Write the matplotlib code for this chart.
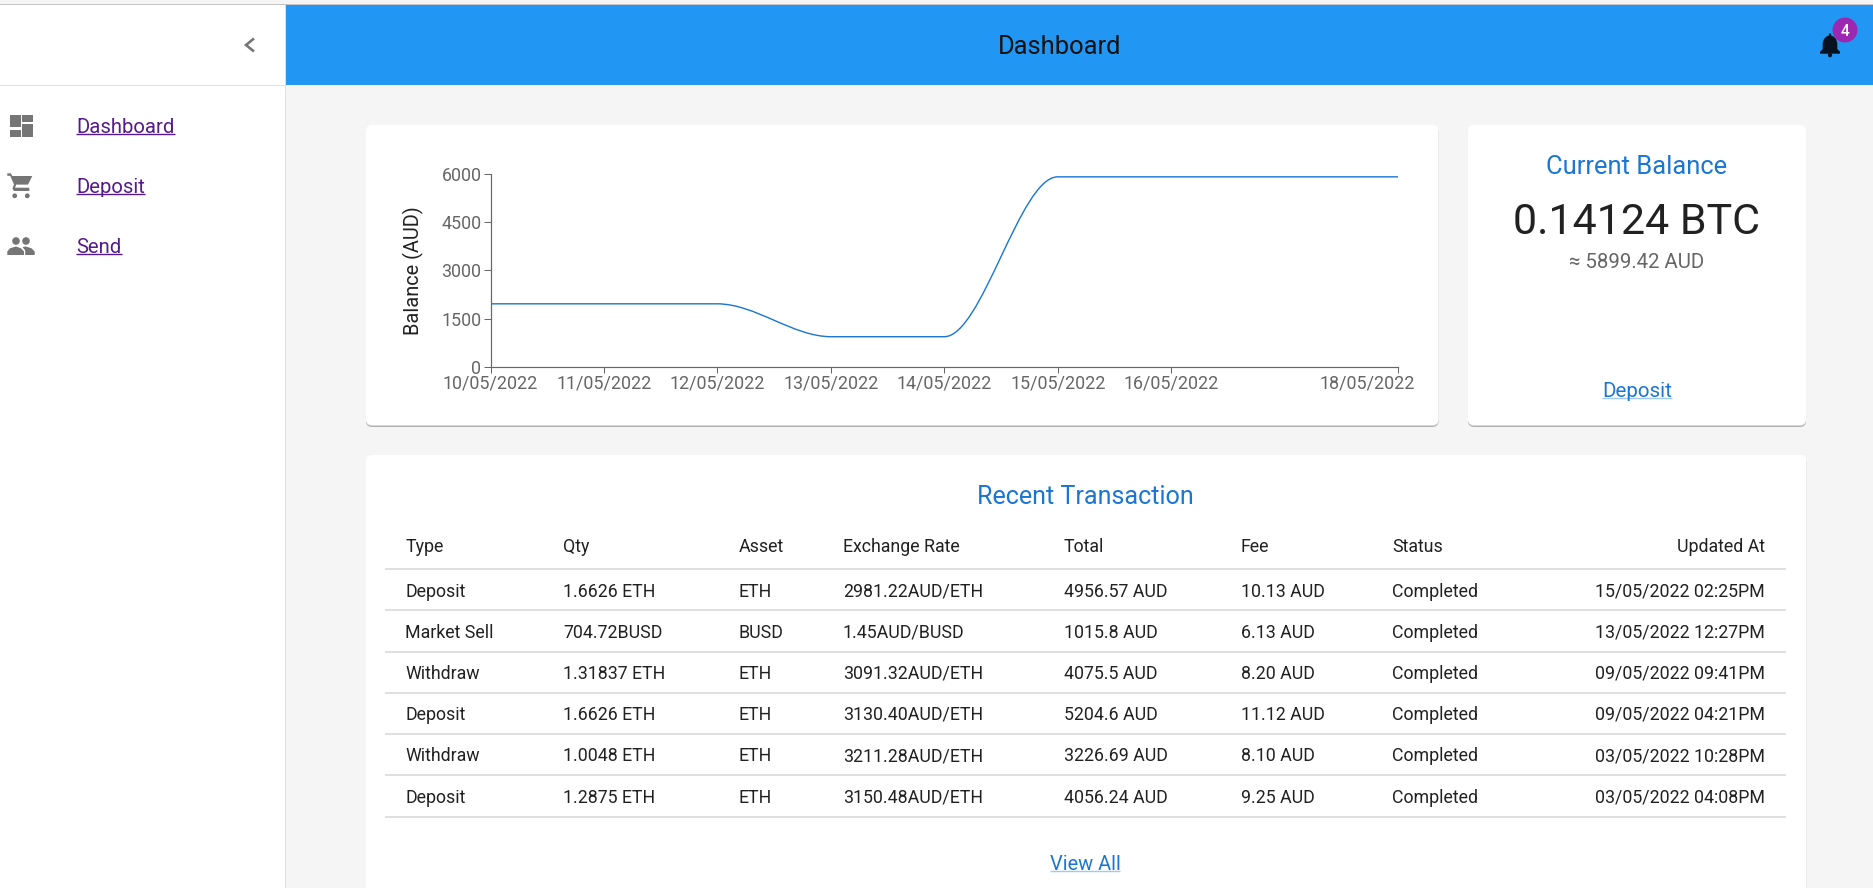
from datetime import datetime
import matplotlib
matplotlib.use("Agg")
import matplotlib.pyplot as plt
import matplotlib.dates as mdates
from matplotlib.patches import Rectangle, FancyBboxPatch, Circle, Polygon, PathPatch
from matplotlib.path import Path
from matplotlib.transforms import ScaledTranslation

plt.rcParams['font.family'] = ['Roboto', 'DejaVu Sans']

# ---- chart data
date_labels = ["10/05/2022", "11/05/2022", "12/05/2022", "13/05/2022",
               "14/05/2022", "15/05/2022", "16/05/2022", "18/05/2022"]
balance = [1960, 1960, 1960, 940, 940, 5899.42, 5899.42, 5899.42]
y_ticks = [0, 1500, 3000, 4500, 6000]
y_title = "Balance (AUD)"

# ---- table data
table_columns = ["Type", "Qty", "Asset", "Exchange Rate", "Total", "Fee", "Status", "Updated At"]
tx_type = ["Deposit", "Market Sell", "Withdraw", "Deposit", "Withdraw", "Deposit"]
tx_qty = ["1.6626 ETH", "704.72BUSD", "1.31837 ETH", "1.6626 ETH", "1.0048 ETH", "1.2875 ETH"]
tx_asset = ["ETH", "BUSD", "ETH", "ETH", "ETH", "ETH"]
tx_rate = ["2981.22AUD/ETH", "1.45AUD/BUSD", "3091.32AUD/ETH", "3130.40AUD/ETH",
           "3211.28AUD/ETH", "3150.48AUD/ETH"]
tx_total = ["4956.57 AUD", "1015.8 AUD", "4075.5 AUD", "5204.6 AUD", "3226.69 AUD", "4056.24 AUD"]
tx_fee = ["10.13 AUD", "6.13 AUD", "8.20 AUD", "11.12 AUD", "8.10 AUD", "9.25 AUD"]
tx_status = ["Completed"] * 6
tx_updated = ["15/05/2022 02:25PM", "13/05/2022 12:27PM", "09/05/2022 09:41PM",
              "09/05/2022 04:21PM", "03/05/2022 10:28PM", "03/05/2022 04:08PM"]
table_cells = [tx_type, tx_qty, tx_asset, tx_rate, tx_total, tx_fee, tx_status, tx_updated]

nav_items = ["Dashboard", "Deposit", "Send"]

W, H = 1873, 888
BLUE = "#1976d2"
DARK = "#212121"
GREY = "#666666"
VISITED = "#551a8b"
LINE = "#e0e0e0"


def pt(px):
    return px * 0.72


fig = plt.figure(figsize=(W / 100, H / 100), dpi=100, facecolor="#f5f5f5")
bg = fig.add_axes([0, 0, 1, 1])
bg.set_xlim(0, W)
bg.set_ylim(H, 0)
bg.axis("off")


def rect(x0, y0, x1, y1, color, z=1):
    bg.add_patch(Rectangle((x0, y0), x1 - x0, y1 - y0, fc=color, ec="none", zorder=z))


def card(x0, y0, x1, y1):
    for off, col in [(2, "#b0b0b0"), (1, "#d8d8d8")]:
        bg.add_patch(FancyBboxPatch((x0, y0 + off), x1 - x0, y1 - y0, boxstyle="round,pad=0,rounding_size=6",
                                    fc=col, ec="none", zorder=2))
    bg.add_patch(FancyBboxPatch((x0, y0), x1 - x0, y1 - y0, boxstyle="round,pad=0,rounding_size=6",
                                fc="white", ec="none", zorder=3))


def label(x, y, s, size, color=DARK, ha="left", **kw):
    return bg.text(x, y, s, fontsize=pt(size), color=color, ha=ha, va="center_baseline", zorder=6, **kw)


def link(x, y, s, size, color, under, ha="left", uy=8, lw=1.4):
    t = label(x, y, s, size, color, ha)
    e = t.get_window_extent(fig.canvas.get_renderer())
    bg.plot([e.x0, e.x1], [y + uy, y + uy], color=under, lw=pt(lw), zorder=5, solid_capstyle="butt")


# ---- page frame
rect(0, 0, W, 4, "#f5f5f5")
rect(0, 4, W, 5, "#c4c4c4", 5)
rect(0, 5, 285, H, "white")
rect(285, 5, 286, H, LINE)
rect(286, 5, W, 85, "#2196f3")
rect(0, 85, 285, 86, LINE)
label(1060, 44.5, "Dashboard", 25.5, "#111111", "center")

# chevron
bg.plot([254, 246, 254], [38.5, 45, 51.5], color="#757575", lw=pt(2.6), zorder=6,
        solid_joinstyle="miter", solid_capstyle="butt")

# nav
for y, s in zip([125.5, 185.5, 245.5], nav_items):
    link(76.5, y, s, 20.3, VISITED, VISITED, uy=8.8)

# dashboard icon
ICON = "#757575"
rect(9.7, 114.7, 20.7, 127, ICON, 6)
rect(9.7, 129.7, 20.7, 137, ICON, 6)
rect(22.3, 124.3, 32.7, 137, ICON, 6)
rect(22.3, 114.7, 32.7, 122, ICON, 6)

# cart icon
bg.add_patch(Polygon([(7.3, 173.3), (10.8, 173.3), (12.4, 176), (32.3, 176), (28, 184.6), (16.2, 184.6),
                      (15, 187.7), (29.3, 187.7), (29.3, 191), (14, 191), (12.4, 188.5), (14, 184.5),
                      (10.2, 175.8), (7.3, 175.8)], fc=ICON, ec="none", zorder=6))
for cx in (14.7, 27.3):
    bg.add_patch(Circle((cx, 195.8), 2.4, fc=ICON, ec="none", zorder=6))

# people icon
for cx in (16, 26):
    bg.add_patch(Circle((cx, 241), 3.8, fc=ICON, ec="none", zorder=6))
bg.add_patch(Polygon([(7.3, 255), (7.3, 251.5), (10, 248.3), (16, 246.5), (21, 248.3), (24, 251.5), (24, 255)],
                     fc=ICON, ec="none", zorder=6))
bg.add_patch(Polygon([(25.2, 255), (25.2, 250.5), (22.5, 247), (26, 246.5), (31.5, 248.3), (34.7, 251.5), (34.7, 255)],
                     fc=ICON, ec="none", zorder=6))

# bell
BELL = "#06121f"
bg.add_patch(Polygon([(1820, 51.7), (1822.7, 49), (1822.7, 43), (1824, 39), (1826.5, 36.5), (1828.7, 35.6),
                      (1829, 33.5), (1831, 33.5), (1831.3, 35.6), (1833.5, 36.5), (1836, 39), (1837.3, 43),
                      (1837.3, 49), (1840, 51.7), (1840, 53.7), (1820, 53.7)],
                     fc=BELL, ec="none", zorder=6))
bg.add_patch(Circle((1830, 55.2), 2.1, fc=BELL, ec="none", zorder=6))
bg.add_patch(Circle((1845, 30), 12.5, fc="#9c27b0", ec="none", zorder=7))
bg.text(1845, 30, "4", fontsize=pt(15.5), color="white", ha="center", va="center_baseline",
        fontweight="medium", zorder=8)

# ---- cards
card(366, 125, 1438.5, 425)
card(1468, 125, 1806, 425)
card(366, 455, 1806.5, H + 30)

label(1636.7, 164.5, "Current Balance", 25.5, BLUE, "center")
label(1636.7, 218, "0.14124 BTC", 43, DARK, "center")
label(1636.7, 260.5, "≈ 5899.42 AUD", 20.4, GREY, "center")
link(1636.7, 389.5, "Deposit", 20.5, BLUE, "#a3c8ed", "center", uy=8.8)

# ---- table
label(1085, 494, "Recent Transaction", 25.1, BLUE, "center")
col_x = [405.2, 563.5, 738.6, 843, 1064, 1241, 1392, 1765]
head_y = 545
row_y = [589.7, 630.7, 671.7, 712.7, 754, 795.7]
rule_y = [569, 610, 651.7, 693, 734, 775, 816.7]
rule_w = [1.2, 1.2, 2.0, 1.2, 1.2, 1.2, 2.0]
for i, name in enumerate(table_columns):
    ha = "right" if i == 7 else "left"
    label(col_x[i], head_y, name, 17.7, DARK, ha)
    for y, s in zip(row_y, table_cells[i]):
        label(col_x[i], y, s, 17.7, DARK, ha)
for y, w in zip(rule_y, rule_w):
    rect(385.5, y - w / 2, 1786, y + w / 2, "#e0e0e0", 4)
link(1085, 862, "View All", 20, BLUE, "#a3c8ed", "center", uy=8.8)

# ---- chart
l, r, t, b = 490.5, 1398, 173.6, 367
ax = fig.add_axes([l / W, 1 - b / H, (r - l) / W, (b - t) / H], facecolor="none")
ax.set_zorder(5)
dates = [mdates.date2num(datetime.strptime(d, "%d/%m/%Y")) for d in date_labels]

# Monotone cubic segments: every knot lies on a flat run, so the tangents there are level.
verts, codes = [(dates[0], balance[0])], [Path.MOVETO]
for x0, y0, x1, y1 in zip(dates[:-1], balance[:-1], dates[1:], balance[1:]):
    dx = (x1 - x0) / 3
    verts += [(x0 + dx, y0), (x1 - dx, y1), (x1, y1)]
    codes += [Path.CURVE4] * 3
ax.add_patch(PathPatch(Path(verts, codes), fc="none", ec=BLUE, lw=pt(1.4), zorder=3))

ax.set_xlim(dates[0], dates[-1])
ax.set_ylim(0, 6000)
ax.set_xticks(dates)
ax.set_xticklabels(date_labels)
ax.set_yticks(y_ticks)
ax.set_yticklabels([str(v) for v in y_ticks])
for s in ("top", "right"):
    ax.spines[s].set_visible(False)
for s in ("left", "bottom"):
    ax.spines[s].set_color(GREY)
    ax.spines[s].set_linewidth(pt(1.2))
ax.tick_params(axis="both", color=GREY, width=pt(1), labelcolor=GREY, labelsize=pt(17.9))
ax.tick_params(axis="x", length=pt(6), pad=pt(2))
ax.tick_params(axis="y", length=pt(7), pad=pt(2))
last = ax.get_xticklabels()[-1]
last.set_transform(last.get_transform() + ScaledTranslation(-31 / 100, 0, fig.dpi_scale_trans))
label(411.5, 270.7, y_title, 20, "#222222", "center", rotation=90, rotation_mode="anchor")

fig.savefig("out.png", dpi=100, facecolor=fig.get_facecolor())
